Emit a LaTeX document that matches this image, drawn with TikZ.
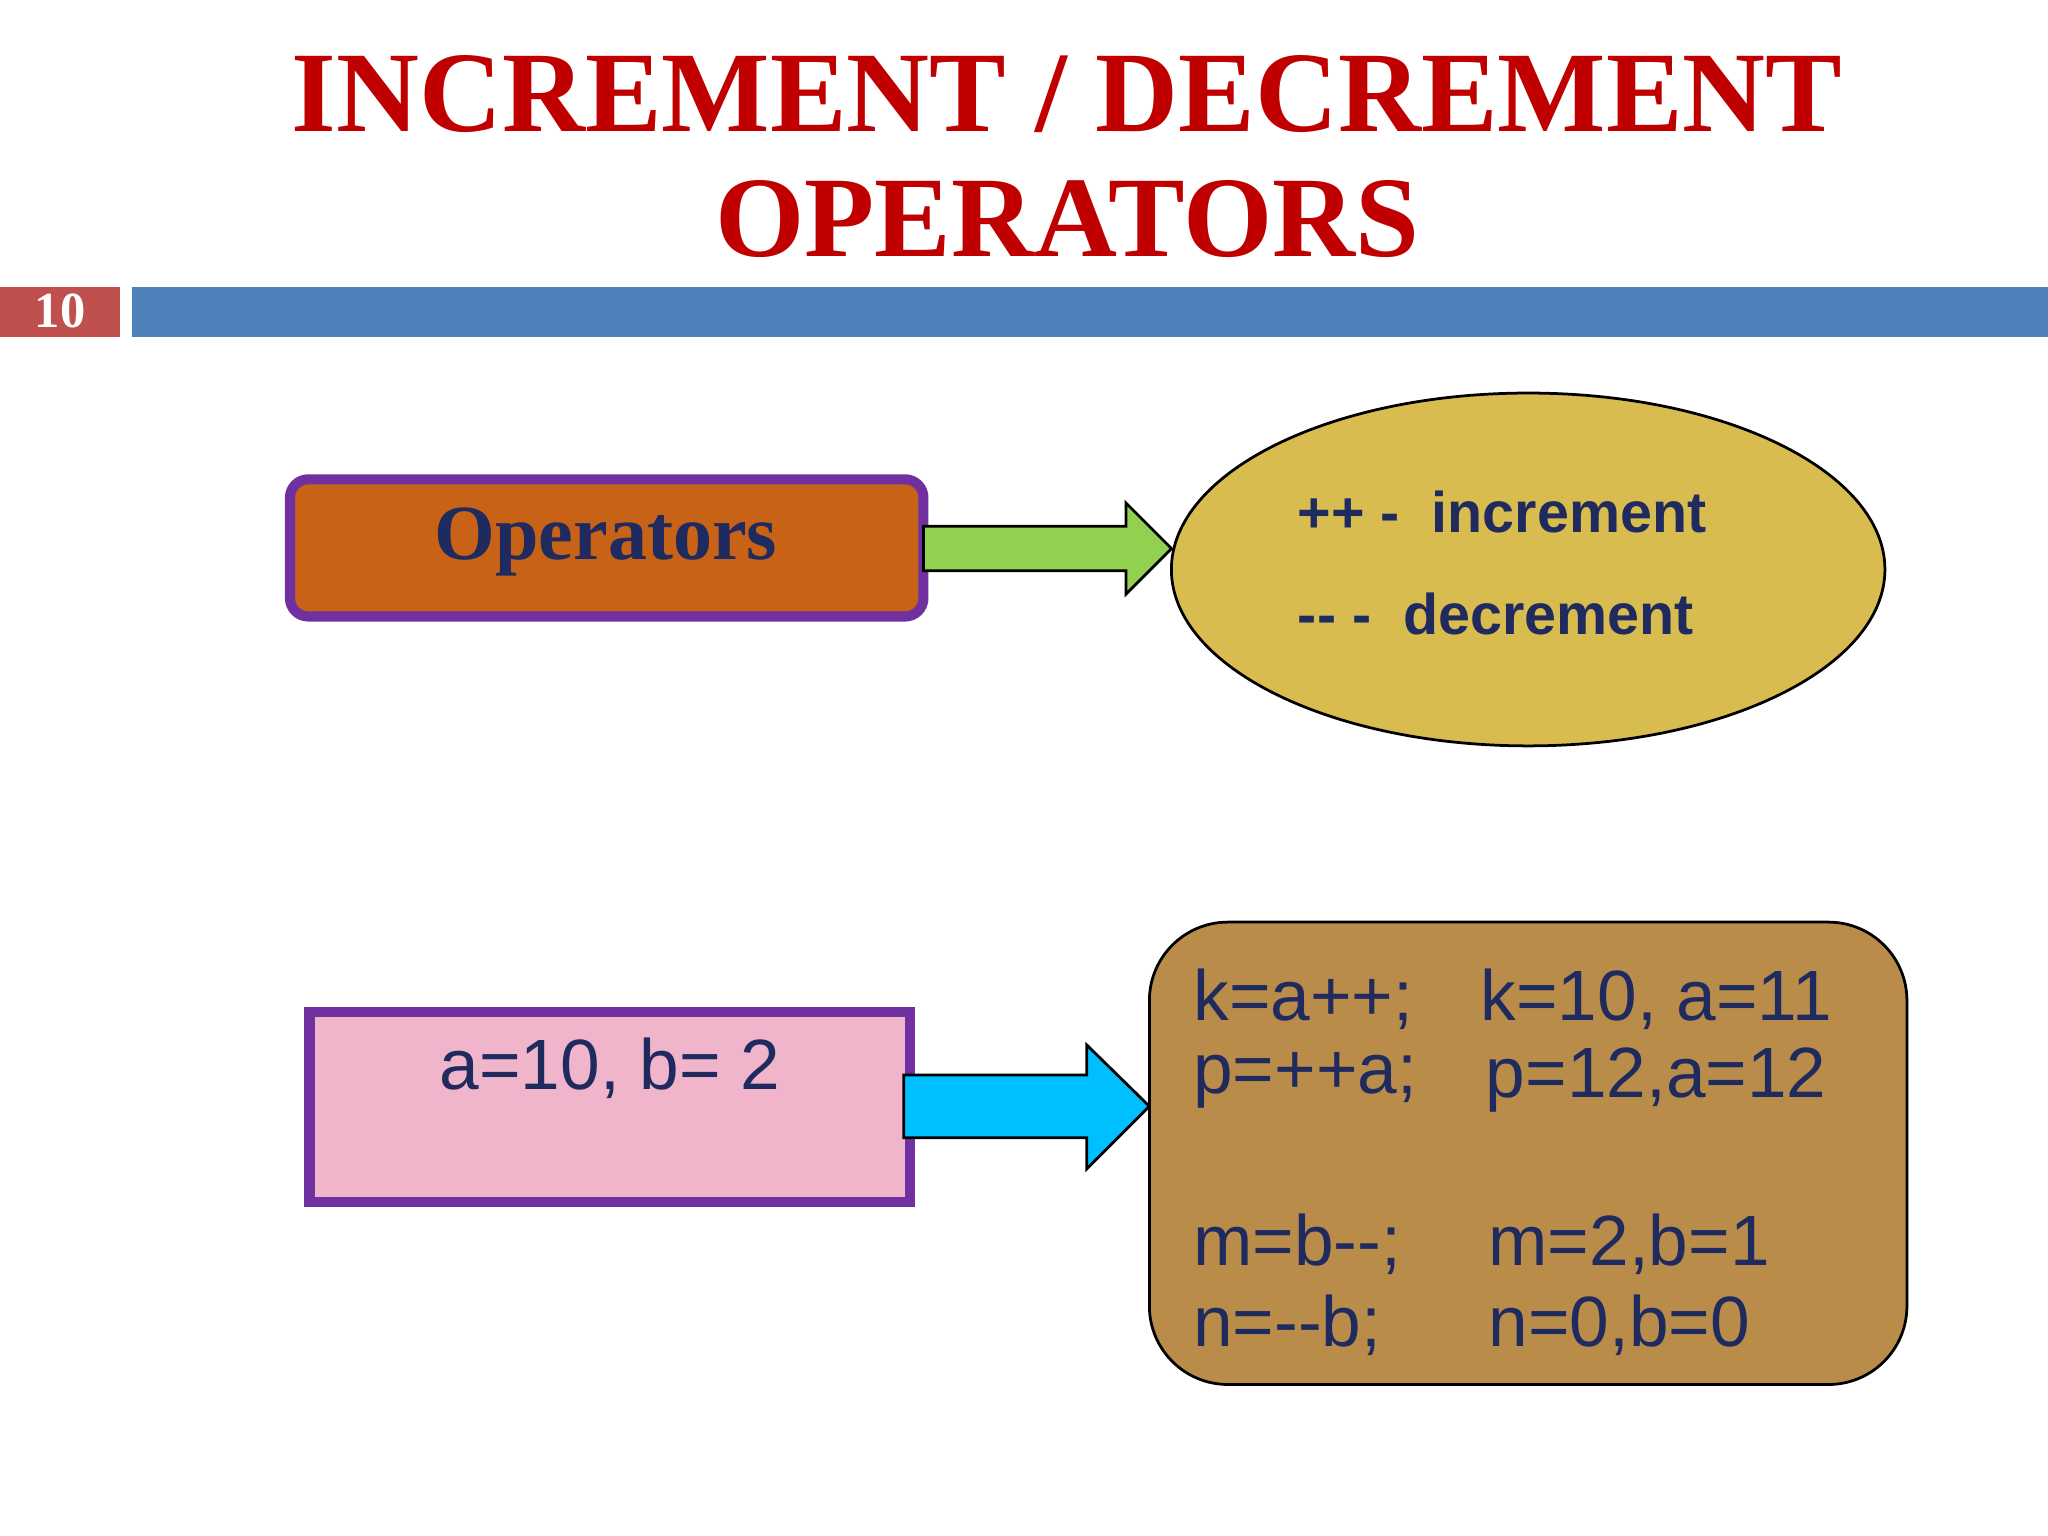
\documentclass[tikz,border=0pt]{standalone}
\usepackage{fontspec}
\setmainfont{Liberation Serif}
\setsansfont{Liberation Sans}
\usetikzlibrary{shapes.geometric}
\definecolor{tred}{HTML}{C00000}
\definecolor{navy}{HTML}{1F2A5E}
\definecolor{purp}{HTML}{7030A0}
\begin{document}
\begin{tikzpicture}[x=0.01cm,y=-0.01cm,
  title/.style={font=\bfseries\fontsize{25}{30}\selectfont,text=tred},
  txt/.style={font=\sffamily\fontsize{15.5}{19}\selectfont,text=navy,anchor=west,inner sep=0},
  etxt/.style={font=\sffamily\bfseries\fontsize{12.5}{15}\selectfont,text=navy,anchor=west,inner sep=0}]
\useasboundingbox (0,0) rectangle (1568,1176);
\fill[white] (0,0) rectangle (1568,1176);
\node[title] (t1) at (817,72) {INCREMENT / DECREMENT};
\node[title] (t2) at (817,168) {OPERATORS};
\fill[fill={rgb,255:red,192;green,80;blue,77}] (0,220) rectangle (92,258);
\node[text=white,font=\bfseries\fontsize{11}{13}\selectfont] (num) at (46,238) {10};
\fill[fill={rgb,255:red,79;green,129;blue,189}] (101,220) rectangle (1568,258);
% operators box
\draw[line width=2.2pt,draw=purp,fill={rgb,255:red,200;green,98;blue,22},rounded corners=0.14cm] (222,367) rectangle (707,472);
\node[font=\bfseries\fontsize{17}{20}\selectfont,text=navy] (op) at (464,415) {Operators};
% green arrow
\draw[fill={rgb,255:red,146;green,208;blue,80},line width=0.6pt] (707,403) -- (862,403) -- (862,385) -- (897,420) -- (862,455) -- (862,437) -- (707,437) -- cycle;
% ellipse
\node[ellipse,draw,line width=0.6pt,fill={rgb,255:red,216;green,188;blue,79},minimum width=5.46cm,minimum height=2.7cm,inner sep=0] (el) at (1170,436) {};
\node[etxt] (e1) at (993,392) {++ -\ \ increment};
\node[etxt] (e2) at (993,470) {{-}{-} -\ \ decrement};
% pink box
\draw[line width=2.2pt,draw=purp,fill={rgb,255:red,240;green,180;blue,203}] (237,775) rectangle (697,920);
\node[font=\sffamily\fontsize{15.5}{19}\selectfont,text=navy] (ab) at (467,818) {a=10, b= 2};
% cyan arrow
\draw[fill={rgb,255:red,0;green,191;blue,255},line width=0.6pt] (692,823) -- (832,823) -- (832,800) -- (880,847) -- (832,895) -- (832,871) -- (692,871) -- cycle;
% brown box
\draw[line width=0.6pt,fill={rgb,255:red,185;green,140;blue,74},rounded corners=0.6cm] (880,706) rectangle (1460,1060);
\node[txt] (l1) at (913,765) {k=a++;};
\node[txt] (r1) at (1133,765) {k=10, a=11};
\node[txt] (l2) at (913,827) {p=++a;};
\node[txt] (r2) at (1137,827) {p=12,a=12};
\node[txt] (l3) at (913,953) {m=b{-}{-};};
\node[txt] (r3) at (1139,953) {m=2,b=1};
\node[txt] (l4) at (913,1015) {n={-}{-}b;};
\node[txt] (r4) at (1139,1015) {n=0,b=0};
\end{tikzpicture}
\end{document}
